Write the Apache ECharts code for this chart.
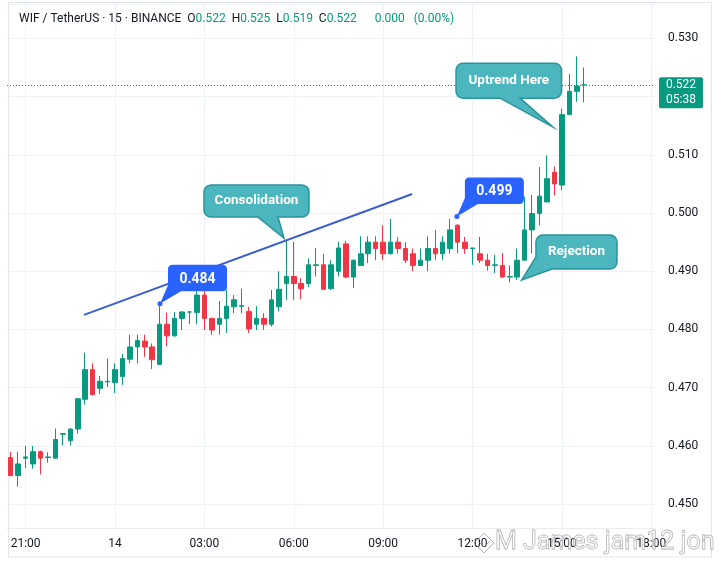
<!DOCTYPE html>
<html>
<head>
<meta charset="utf-8">
<title>WIF / TetherUS 15</title>
<script src="https://cdn.jsdelivr.net/npm/echarts@6/dist/echarts.min.js"></script>
<style>
html, body { margin: 0; padding: 0; background: #fff; }
#chart { width: 721px; height: 565px; }
</style>
</head>
<body>
<div id="chart"></div>
<script>
// 15 min candles, 20:30 -> 15:45
const opens = [0.4580, 0.4549, 0.4579, 0.4569, 0.4590, 0.4580, 0.4579, 0.4620, 0.4609, 0.4629,
    0.4680, 0.4731, 0.4699, 0.4710, 0.4709, 0.4719, 0.4749, 0.4770, 0.4780, 0.4770,
    0.4740, 0.4809, 0.4789, 0.4819, 0.4830, 0.4829, 0.4859, 0.4819, 0.4809, 0.4819,
    0.4839, 0.4840, 0.4831, 0.4809, 0.4819, 0.4809, 0.4839, 0.4879, 0.4891, 0.4879,
    0.4879, 0.4910, 0.4911, 0.4870, 0.4900, 0.4947, 0.4890, 0.4910, 0.4930, 0.4950,
    0.4950, 0.4930, 0.4950, 0.4939, 0.4930, 0.4910, 0.4919, 0.4939, 0.4930, 0.4939,
    0.4979, 0.4950, 0.4939, 0.4930, 0.4919, 0.4910, 0.4910, 0.4890, 0.4890, 0.4919,
    0.4971, 0.4999, 0.5019, 0.5070, 0.5048, 0.5169, 0.5209, 0.5220]
const closes = [0.4549, 0.4569, 0.4581, 0.4590, 0.4579, 0.4581, 0.4611, 0.4621, 0.4629, 0.4681,
    0.4731, 0.4688, 0.4711, 0.4711, 0.4731, 0.4750, 0.4770, 0.4781, 0.4770, 0.4748,
    0.4809, 0.4789, 0.4819, 0.4830, 0.4830, 0.4859, 0.4819, 0.4799, 0.4819, 0.4840,
    0.4851, 0.4841, 0.4801, 0.4819, 0.4809, 0.4851, 0.4869, 0.4891, 0.4879, 0.4870,
    0.4911, 0.4911, 0.4869, 0.4911, 0.4940, 0.4890, 0.4919, 0.4930, 0.4950, 0.4939,
    0.4930, 0.4950, 0.4939, 0.4919, 0.4910, 0.4919, 0.4939, 0.4930, 0.4950, 0.4971,
    0.4950, 0.4939, 0.4940, 0.4919, 0.4910, 0.4911, 0.4890, 0.4891, 0.4919, 0.4971,
    0.4999, 0.5029, 0.5059, 0.5050, 0.5169, 0.5209, 0.5218, 0.5220]
const lows = [0.4548, 0.4530, 0.4562, 0.4561, 0.4551, 0.4571, 0.4578, 0.4601, 0.4601, 0.4621,
    0.4671, 0.4687, 0.4689, 0.4701, 0.4691, 0.4705, 0.4742, 0.4742, 0.4753, 0.4732,
    0.4740, 0.4771, 0.4788, 0.4799, 0.4809, 0.4809, 0.4799, 0.4791, 0.4791, 0.4794,
    0.4828, 0.4828, 0.4794, 0.4799, 0.4799, 0.4805, 0.4831, 0.4851, 0.4851, 0.4852,
    0.4873, 0.4891, 0.4868, 0.4868, 0.4891, 0.4888, 0.4871, 0.4909, 0.4914, 0.4919,
    0.4919, 0.4929, 0.4930, 0.4914, 0.4900, 0.4909, 0.4900, 0.4919, 0.4919, 0.4930,
    0.4931, 0.4930, 0.4911, 0.4914, 0.4901, 0.4897, 0.4889, 0.4881, 0.4885, 0.4919,
    0.4931, 0.4979, 0.5019, 0.5030, 0.5039, 0.5169, 0.5191, 0.5190]
const highs = [0.4590, 0.4590, 0.4600, 0.4600, 0.4592, 0.4589, 0.4630, 0.4622, 0.4630, 0.4682,
    0.4760, 0.4742, 0.4720, 0.4750, 0.4742, 0.4758, 0.4791, 0.4791, 0.4791, 0.4776,
    0.4844, 0.4829, 0.4830, 0.4831, 0.4831, 0.4869, 0.4869, 0.4820, 0.4849, 0.4868,
    0.4859, 0.4870, 0.4839, 0.4840, 0.4828, 0.4868, 0.4900, 0.4954, 0.4951, 0.4888,
    0.4922, 0.4940, 0.4930, 0.4919, 0.4951, 0.4952, 0.4920, 0.4960, 0.4960, 0.4960,
    0.4979, 0.4990, 0.4959, 0.4950, 0.4939, 0.4939, 0.4960, 0.4971, 0.4960, 0.4990,
    0.4981, 0.4959, 0.4940, 0.4959, 0.4930, 0.4928, 0.4931, 0.4910, 0.4939, 0.5028,
    0.5031, 0.5079, 0.5099, 0.5080, 0.5179, 0.5239, 0.5269, 0.5250]

const tickTimes = ['21:00', '00:00', '03:00', '06:00', '09:00', '12:00', '15:00', '18:00']
const tickLabels = ['21:00', '14', '03:00', '06:00', '09:00', '12:00', '15:00', '18:00']
const priceChange = '0.000   (0.00%)'
const countdown = '05:38'

// drawings (index, price)
const trendLine = [[9.84, 0.4825], [53.9, 0.50327]]
const noteTexts = ['0.484', '0.499']
const noteTips = [[20.04, 0.4844], [59.9, 0.4994]]
const calloutTexts = ['Consolidation', 'Uptrend Here', 'Rejection']
const calloutTips = [[36.69, 0.4957], [72.77, 0.5148], [68.6, 0.4885]]
const watermark = 'M James jam12 jon'

const FONT = 'Roboto, "Noto Sans", sans-serif'
const UP = '#089981'
const DOWN = '#f23645'
const TEXT = '#131722'
const GRID = '#eef1f5'

// one slot per 15 minutes, empty ones after the last candle
const categories = []
for (let i = 0; i < 87; i++) {
    const m = (20 * 60 + 30 + i * 15) % 1440
    categories.push(String(Math.floor(m / 60)).padStart(2, '0') + ':' + String(m % 60).padStart(2, '0'))
}
const candles = opens.map((o, i) => [o, closes[i], lows[i], highs[i]])
const last = candles.length - 1
const lastPrice = closes[last]
const fmt = (v) => v.toFixed(3)
const isTick = (i, v) => tickTimes.indexOf(v) >= 0

const chart = echarts.init(document.getElementById('chart'))
const option = {
    animation: false,
    backgroundColor: '#fff',
    title: {
        left: 14,
        top: 8,
        text: 'WIF / TetherUS · 15 · BINANCE  O{v|' + fmt(opens[last]) + '}  H{v|' + fmt(highs[last]) +
            '}  L{v|' + fmt(lows[last]) + '}  C{v|' + fmt(closes[last]) + '}      {v|' + priceChange + '}',
        textStyle: {
            fontSize: 12,
            fontWeight: 'normal',
            fontFamily: FONT,
            color: TEXT,
            rich: { v: { color: UP, fontSize: 12, fontFamily: FONT } }
        }
    },
    grid: { left: 7, right: 66, top: 4, bottom: 37 },
    xAxis: [
        {
            type: 'category',
            data: categories,
            boundaryGap: true,
            axisLine: { show: true, lineStyle: { color: '#e9ecf1' } },
            axisTick: { show: false },
            axisLabel: {
                interval: isTick,
                formatter: (v) => tickLabels[tickTimes.indexOf(v)],
                color: TEXT,
                fontSize: 12,
                fontFamily: FONT,
                margin: 10
            },
            splitLine: { show: true, interval: isTick, alignWithLabel: true, lineStyle: { color: GRID } }
        },
        { type: 'value', min: -0.5, max: categories.length - 0.5, show: false }
    ],
    yAxis: {
        type: 'value',
        position: 'right',
        min: 0.4459,
        max: 0.5359,
        splitNumber: 9,
        minInterval: 0.01,
        maxInterval: 0.01,
        axisLine: { show: false },
        axisTick: { show: false },
        axisLabel: {
            color: TEXT,
            fontSize: 12,
            fontFamily: FONT,
            margin: 13,
            showMinLabel: false,
            showMaxLabel: false,
            formatter: fmt
        },
        splitLine: { lineStyle: { color: GRID } }
    },
    series: [
        {
            type: 'candlestick',
            data: candles,
            barWidth: 5,
            itemStyle: { color: UP, color0: DOWN, borderColor: UP, borderColor0: DOWN, borderWidth: 1 },
            markLine: {
                silent: true,
                precision: 3,
                symbol: ['none', 'none'],
                label: { show: false },
                lineStyle: { color: UP, type: [1, 2], width: 1 },
                data: [{ yAxis: lastPrice }]
            }
        },
        {
            type: 'line',
            xAxisIndex: 1,
            data: trendLine,
            symbol: 'none',
            silent: true,
            z: 5,
            lineStyle: { color: '#3a5fcd', width: 2 }
        }
    ]
}
chart.setOption(option)

const toPx = (p) => chart.convertToPixel({ seriesIndex: 1 }, p)

// rounded box with a tail; tail 'bottom' = base on bottom edge, 'corner' = bottom-left corner
const arcPts = (cx, cy, r, a0, a1) => {
    const pts = []
    for (let k = 0; k <= 4; k++) {
        const a = (a0 + (a1 - a0) * k / 4) * Math.PI / 180
        pts.push([cx + r * Math.cos(a), cy + r * Math.sin(a)])
    }
    return pts
}
const boxShape = (bx, by, w, h, r, tip, tail) => {
    let pts = []
    pts = pts.concat(arcPts(bx + w - r, by + r, r, -90, 0))
    pts = pts.concat(arcPts(bx + w - r, by + h - r, r, 0, 90))
    if (tail.mode === 'bottom') {
        pts.push([bx + tail.b, by + h], tip, [bx + tail.a, by + h])
        pts = pts.concat(arcPts(bx + r, by + h - r, r, 90, 180))
    } else {
        pts.push([bx + tail.a, by + h], tip, [bx, by + h - tail.b])
    }
    pts = pts.concat(arcPts(bx + r, by + r, r, 180, 270))
    return pts
}
const label = (text, x, y, size, weight, color) => ({
    type: 'text',
    z: 102,
    silent: true,
    style: {
        text: text, x: x, y: y, fill: color,
        fontSize: size, fontWeight: weight, fontFamily: FONT,
        align: 'center', verticalAlign: 'middle', textAlign: 'center', textVerticalAlign: 'middle'
    }
})

const graphics = []
// outer frame
graphics.push({
    type: 'rect', z: 1, silent: true,
    shape: { x: 8.5, y: 2.5, width: 703, height: 554.5 },
    style: { fill: 'none', stroke: '#e3e6ec', lineWidth: 1 }
})

// price notes
noteTips.forEach((t, i) => {
    const p = toPx(t)
    const bx = p[0] + 8, by = p[1] - 39, w = 59, h = 26.5
    graphics.push({
        type: 'polygon', z: 100, silent: true,
        shape: { points: boxShape(bx, by, w, h, 4, p, { mode: 'corner', a: 13, b: 6 }) },
        style: { fill: '#2962ff' }
    })
    graphics.push({ type: 'circle', z: 101, silent: true, shape: { cx: p[0], cy: p[1], r: 2.5 }, style: { fill: '#2962ff' } })
    graphics.push(label(noteTexts[i], bx + w / 2, by + h / 2 + 1, 14, 'bold', '#fff'))
})

// callouts
const calloutBoxes = [
    { dx: -80, dy: -53, w: 105, h: 32, tail: { mode: 'bottom', a: 54, b: 74 } },
    { dx: -96.7, dy: -63.7, w: 105.5, h: 35, tail: { mode: 'bottom', a: 44, b: 64 } },
    { dx: 14.3, dy: -45, w: 81, h: 34, tail: { mode: 'corner', a: 16, b: 12 } }
]
calloutTips.forEach((t, i) => {
    const p = toPx(t)
    const c = calloutBoxes[i]
    const bx = p[0] + c.dx, by = p[1] + c.dy
    graphics.push({
        type: 'polygon', z: 100, silent: true,
        shape: { points: boxShape(bx, by, c.w, c.h, 7, p, c.tail) },
        style: { fill: '#4cb6be', stroke: '#2a939c', lineWidth: 1.5 }
    })
    graphics.push(label(calloutTexts[i], bx + c.w / 2, by + c.h / 2, 13.5, 'bold', '#fff'))
})

// last price tag on the price scale
const lp = toPx([categories.length - 0.5, lastPrice])
graphics.push({
    type: 'rect', z: 100, silent: true,
    shape: { x: lp[0] + 4, y: lp[1] - 7.8, width: 44, height: 31, r: 2 },
    style: { fill: UP }
})
graphics.push(label(fmt(lastPrice), lp[0] + 26, lp[1] + 0.5, 12, 'normal', '#fff'))
graphics.push(label(countdown, lp[0] + 26, lp[1] + 15, 12, 'normal', '#fff'))

// watermark
graphics.push({
    type: 'polygon', z: 110, silent: true,
    shape: { points: [[484, 533], [494, 543], [484, 553], [474, 543]] },
    style: { fill: 'none', stroke: 'rgba(130,130,130,0.75)', lineWidth: 0.8 }
})
graphics.push({
    type: 'polyline', z: 110, silent: true,
    shape: { points: [[478, 541], [484, 547], [490, 541]] },
    style: { stroke: 'rgba(130,130,130,0.75)', lineWidth: 0.8 }
})
graphics.push({
    type: 'text', z: 110, silent: true,
    style: {
        text: watermark, x: 495, y: 543, fill: 'rgba(255,255,255,0.45)', stroke: 'rgba(125,125,125,0.75)',
        lineWidth: 0.8, fontSize: 25, fontFamily: FONT,
        align: 'left', verticalAlign: 'middle', textAlign: 'left', textVerticalAlign: 'middle'
    }
})

chart.setOption({ graphic: graphics })
</script>
</body>
</html>
